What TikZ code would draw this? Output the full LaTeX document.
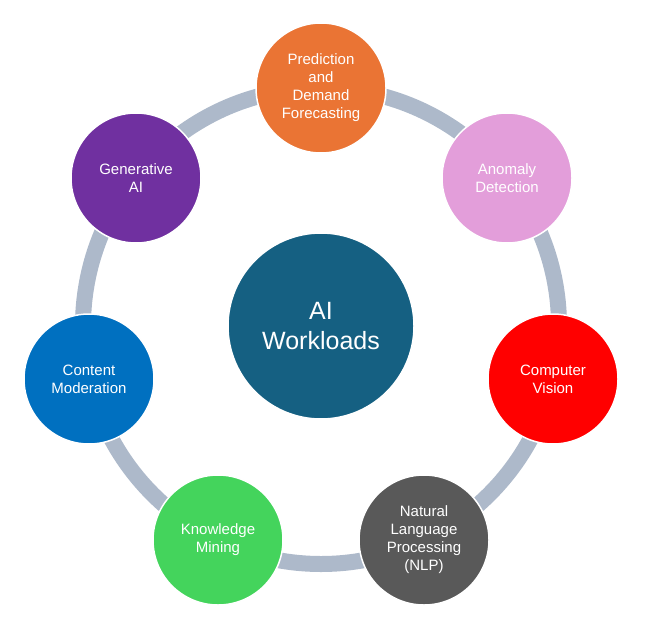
\documentclass[tikz,border=0pt]{standalone}
\usepackage{fontspec}
\setmainfont{Liberation Sans}
\definecolor{ringc}{HTML}{ADB9CA}
\definecolor{cpred}{HTML}{EA7434}
\definecolor{canom}{HTML}{E39EDA}
\definecolor{ccv}{HTML}{FF0000}
\definecolor{cnlp}{HTML}{595959}
\definecolor{ckm}{HTML}{44D45C}
\definecolor{ccm}{HTML}{0070C0}
\definecolor{cgen}{HTML}{7030A0}
\definecolor{ccent}{HTML}{156082}
\tikzset{
  x=1pt,y=-1pt,
  item/.style={circle,draw=white,line width=1.5pt,minimum size=130pt,inner sep=0pt,
    text=white,align=center,font=\fontsize{15}{18}\selectfont},
  hub/.style={circle,draw=white,line width=1.5pt,minimum size=186pt,inner sep=0pt,
    fill=ccent,text=white,align=center,font=\fontsize{25}{30}\selectfont},
  ring/.style={draw=ringc,line width=16pt}
}
\begin{document}
\begin{tikzpicture}
\path[use as bounding box] (0,0) rectangle (660,636);
\coordinate (o) at (321,326);
\draw[ring] (o) circle[radius=238];
\node[item,fill=cpred] (pred) at (321,88) {Prediction\\and\\Demand\\Forecasting};
\node[item,fill=canom] (anom) at (507,178) {Anomaly\\Detection};
\node[item,fill=ccv] (cv) at (553,379) {Computer\\Vision};
\node[item,fill=cnlp] (nlp) at (424,540) {Natural\\Language\\Processing\\(NLP)};
\node[item,fill=ckm] (km) at (218,540) {Knowledge\\Mining};
\node[item,fill=ccm] (cm) at (89,379) {Content\\Moderation};
\node[item,fill=cgen] (gen) at (136,178) {Generative\\AI};
\node[hub] (hub) at (o) {AI\\Workloads};
\end{tikzpicture}
\end{document}
